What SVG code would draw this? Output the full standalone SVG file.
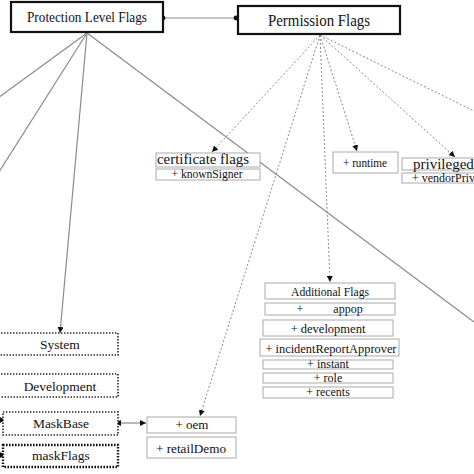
<svg xmlns="http://www.w3.org/2000/svg" width="474" height="474" viewBox="0 0 474 474">
<defs>
<marker id="ah" viewBox="0 0 10 10" refX="10" refY="5" markerWidth="6" markerHeight="6" orient="auto" markerUnits="userSpaceOnUse">
<path d="M0,0 L10,5 L0,10 z" fill="#111"/>
</marker>
<marker id="ahs" viewBox="0 0 10 10" refX="0" refY="5" markerWidth="6" markerHeight="6" orient="auto-start-reverse" markerUnits="userSpaceOnUse">
<path d="M0,0 L10,5 L0,10 z" fill="#111"/>
</marker>
<style>
text{font-family:"Liberation Serif","Times New Roman",serif;fill:#111;text-anchor:middle}
.main{fill:#fff;stroke:#111;stroke-width:2.2}
.flag{fill:#fff;stroke:#aaa;stroke-width:1}
.dot{fill:#fff;stroke:#222;stroke-width:1.6;stroke-dasharray:1.4 1.6}
.dotb{fill:#fff;stroke:#111;stroke-width:2.4;stroke-dasharray:1.6 1.4}
.solid{fill:none;stroke:#8a8a8a;stroke-width:1.2}
.dash{fill:none;stroke:#8a8a8a;stroke-width:1;stroke-dasharray:2 2}
</style>
</defs>
<rect width="474" height="474" fill="#fff"/>

<g id="connectors">
<line class="solid" x1="163" y1="18" x2="236" y2="18"/>
<circle cx="163" cy="18" r="2.4" fill="#111"/>
<circle cx="236" cy="18" r="2.4" fill="#111"/>
<line class="solid" x1="87" y1="33" x2="-2" y2="98"/>
<line class="solid" x1="87" y1="33" x2="-1" y2="172"/>
<line class="solid" x1="87" y1="33" x2="60" y2="333" marker-end="url(#ah)"/>
<line class="solid" x1="87" y1="33" x2="478" y2="325"/>
<line class="dash" x1="320" y1="35" x2="212" y2="152" marker-end="url(#ah)"/>
<line class="dash" x1="320" y1="35" x2="200" y2="416" marker-end="url(#ah)"/>
<line class="dash" x1="320" y1="35" x2="330" y2="282" marker-end="url(#ah)"/>
<line class="dash" x1="320" y1="35" x2="357" y2="151" marker-end="url(#ah)"/>
<line class="dash" x1="320" y1="35" x2="455" y2="157" marker-end="url(#ah)"/>
<line class="dash" x1="320" y1="35" x2="478" y2="113"/>
<line class="solid" x1="121" y1="423" x2="146" y2="423" stroke="#111" marker-start="url(#ahs)" marker-end="url(#ah)"/>
<path d="M0,341 L5,344 L0,347 z" fill="#111"/>
<path d="M0,382 L5,385 L0,388 z" fill="#111"/>
<path d="M0,417 L5,420 L0,423 z" fill="#111"/>
<path d="M0,452 L5,455 L0,458 z" fill="#111"/>
</g>

<g id="protection-level-flags">
<rect class="main" x="11" y="2" width="152" height="30"/>
<text x="87" y="22" font-size="14" textLength="120" lengthAdjust="spacingAndGlyphs">Protection Level Flags</text>
</g>

<g id="permission-flags">
<rect class="main" x="238" y="6" width="162" height="28"/>
<text x="319" y="26" font-size="17" textLength="102" lengthAdjust="spacingAndGlyphs">Permission Flags</text>
</g>

<g id="certificate-flags">
<rect class="flag" x="156" y="153" width="104" height="14"/>
<text x="203" y="164" font-size="15" textLength="92" lengthAdjust="spacingAndGlyphs">certificate flags</text>
<rect class="flag" x="156" y="169" width="104" height="11"/>
<text x="207" y="178" font-size="12" textLength="71" lengthAdjust="spacingAndGlyphs">+ knownSigner</text>
</g>

<g id="runtime">
<rect class="flag" x="333" y="152" width="65" height="21"/>
<text x="365" y="167" font-size="12" textLength="44" lengthAdjust="spacingAndGlyphs">+ runtime</text>
</g>

<g id="privileged">
<rect class="flag" x="402" y="158" width="80" height="12"/>
<text x="413" y="169" font-size="15" style="text-anchor:start">privileged</text>
<rect class="flag" x="402" y="173" width="80" height="10"/>
<text x="412" y="182" font-size="12" style="text-anchor:start">+ vendorPriv</text>
</g>

<g id="additional-flags">
<rect class="flag" x="265" y="283" width="130" height="16"/>
<text x="330" y="296" font-size="12" textLength="78" lengthAdjust="spacingAndGlyphs">Additional Flags</text>
<rect class="flag" x="265" y="303" width="130" height="12"/>
<text x="300" y="313" font-size="12">+<tspan x="348">appop</tspan></text>
<rect class="flag" x="263" y="320" width="130" height="16"/>
<text x="328" y="333" font-size="12.5">+ development</text>
<rect class="flag" x="260" y="339" width="139" height="17"/>
<text x="331" y="353" font-size="12.5" textLength="131" lengthAdjust="spacingAndGlyphs">+ incidentReportApprover</text>
<rect class="flag" x="263" y="360" width="130" height="9"/>
<text x="328" y="368" font-size="12">+ instant</text>
<rect class="flag" x="263" y="373" width="130" height="10"/>
<text x="328" y="382" font-size="12">+ role</text>
<rect class="flag" x="263" y="387" width="130" height="11"/>
<text x="328" y="396" font-size="12">+ recents</text>
</g>

<g id="system">
<rect class="dot" x="-2" y="333" width="120" height="22"/>
<text x="60" y="349" font-size="13.5">System</text>
</g>
<g id="development">
<rect class="dot" x="-2" y="374" width="120" height="23"/>
<text x="60" y="391" font-size="13.5">Development</text>
</g>
<g id="maskbase">
<rect class="dot" x="3" y="412" width="115" height="23"/>
<text x="61" y="428" font-size="13.5">MaskBase</text>
</g>
<g id="maskflags">
<rect class="dotb" x="3" y="445" width="115" height="22"/>
<text x="61" y="460" font-size="13.5">maskFlags</text>
</g>

<g id="oem">
<rect class="flag" x="147" y="417" width="89" height="16"/>
<text x="192" y="429" font-size="13">+ oem</text>
</g>
<g id="retaildemo">
<rect class="flag" x="147" y="437" width="89" height="21"/>
<text x="191" y="453" font-size="13" textLength="70" lengthAdjust="spacingAndGlyphs">+ retailDemo</text>
</g>
</svg>
